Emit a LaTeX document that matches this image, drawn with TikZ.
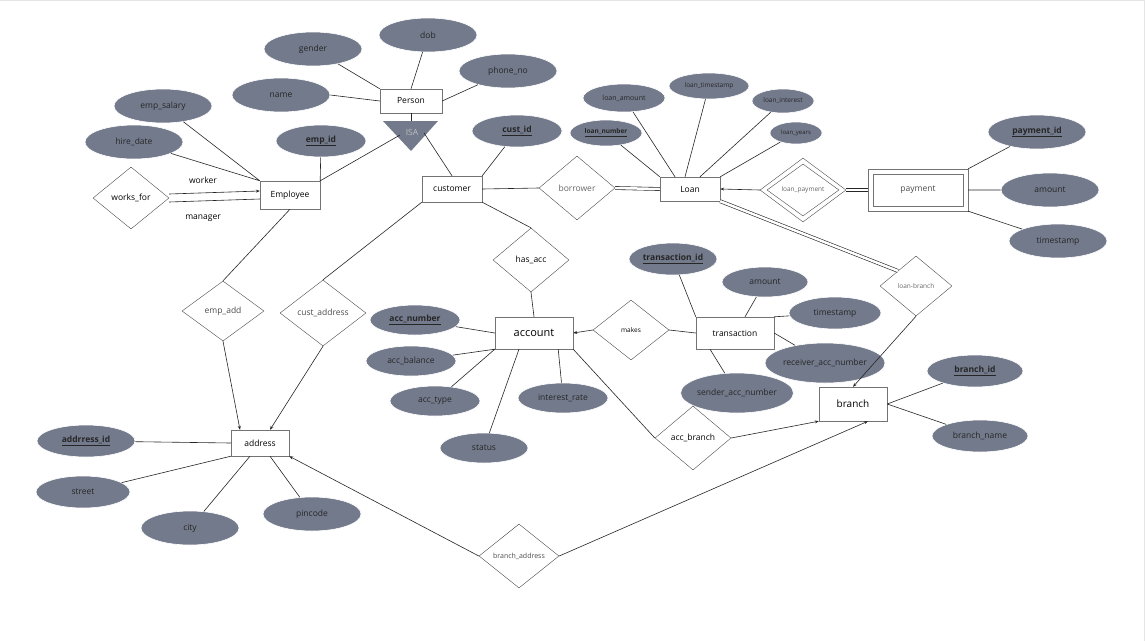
\documentclass[tikz,border=0pt]{standalone}
\usepackage{fontspec}
\setmainfont{Open Sans}
\usetikzlibrary{shapes.geometric,arrows.meta}
\definecolor{att}{HTML}{737A8C}
\begin{document}
\begin{tikzpicture}[x=1pt,y=-1pt,font=\fontsize{8.5}{10}\selectfont,
 attr/.style={ellipse,fill=att,draw=white,line width=0.6pt,inner sep=0pt,text=black!85},
 ent/.style={draw=black!55,fill=white,inner sep=0pt,minimum width=60,minimum height=24},
 rel/.style={diamond,draw=black!70,fill=white,inner sep=0pt,aspect=1.2},
 ln/.style={black!85,line width=0.6pt},
 arr/.style={ln,-{Stealth[length=4pt,width=3pt]}},
 dbl/.style={double=white,double distance=2.5pt,draw=black!85,line width=0.6pt}]
\useasboundingbox (0,0) rectangle (1145,641);
\fill[white] (0,0) rectangle (1145,641);
\draw[black!10] (0,0.5)--(1145,0.5) (1144.5,0)--(1144.5,641);
% attributes
\node[attr,minimum width=98,minimum height=34] (gender) at (313,49) {gender};
\node[attr,minimum width=98,minimum height=34] (dob) at (428,35) {dob};
\node[attr,minimum width=98,minimum height=34] (phone) at (508,71) {phone\_no};
\node[attr,minimum width=98,minimum height=34] (name) at (281,95) {name};
\node[attr,minimum width=98,minimum height=34] (esal) at (163,106) {emp\_salary};
\node[attr,minimum width=98,minimum height=34] (hire) at (134,142) {hire\_date};
\node[attr,minimum width=90,minimum height=32] (empid) at (321,141) {\textbf{\underline{emp\_id}}};
\node[attr,minimum width=90,minimum height=32] (custid) at (517,131) {\textbf{\underline{cust\_id}}};
\node[attr,minimum width=82,minimum height=28,font=\fontsize{7}{8}\selectfont] (lamt) at (624,98) {loan\_amount};
\node[attr,minimum width=80,minimum height=26,font=\fontsize{6.5}{8}\selectfont] (lts) at (709,86) {loan\_timestamp};
\node[attr,minimum width=62,minimum height=24,font=\fontsize{6.5}{8}\selectfont] (lint) at (783,101) {loan\_interest};
\node[attr,minimum width=52,minimum height=22,font=\fontsize{6}{7}\selectfont] (lyrs) at (796,133) {loan\_years};
\node[attr,minimum width=72,minimum height=26,font=\fontsize{6.5}{8}\selectfont] (lnum) at (606,133) {\textbf{\underline{loan\_number}}};
\node[attr,minimum width=98,minimum height=34] (payid) at (1037,132) {\textbf{\underline{payment\_id}}};
\node[attr,minimum width=98,minimum height=34] (pamt) at (1050,190) {amount};
\node[attr,minimum width=98,minimum height=34] (pts) at (1058,241) {timestamp};
\node[attr,minimum width=90,minimum height=30] (accnum) at (415,320) {\textbf{\underline{acc\_number}}};
\node[attr,minimum width=90,minimum height=30] (accbal) at (411,361) {acc\_balance};
\node[attr,minimum width=90,minimum height=30] (acctype) at (435,401) {acc\_type};
\node[attr,minimum width=88,minimum height=30] (status) at (484,448) {status};
\node[attr,minimum width=90,minimum height=30] (irate) at (563,398) {interest\_rate};
\node[attr,minimum width=88,minimum height=32] (tid) at (673,259) {\textbf{\underline{transaction\_id}}};
\node[attr,minimum width=86,minimum height=30] (tamt) at (765,282) {amount};
\node[attr,minimum width=92,minimum height=32] (tts) at (835,313) {timestamp};
\node[attr,minimum width=120,minimum height=40] (rcv) at (825,363) {receiver\_acc\_number};
\node[attr,minimum width=108,minimum height=40] (snd) at (737,393) {sender\_acc\_number};
\node[attr,minimum width=96,minimum height=32] (bid) at (975,371) {\textbf{\underline{branch\_id}}};
\node[attr,minimum width=96,minimum height=32] (bname) at (980,436) {branch\_name};
\node[attr,minimum width=98,minimum height=32] (addid) at (86,441) {\textbf{\underline{addrress\_id}}};
\node[attr,minimum width=94,minimum height=32] (street) at (83,492) {street};
\node[attr,minimum width=98,minimum height=34] (city) at (190,528) {city};
\node[attr,minimum width=98,minimum height=34] (pin) at (312,514) {pincode};
% entities
\node[ent,minimum width=62] (person) at (411,101) {Person};
\fill[att] (383,121) -- (438,121) -- (411,151) -- cycle;
\node[text=black!25] (isa) at (412,132) {ISA};
\node[ent,minimum height=28] (emp) at (290,195) {Employee};
\node[ent,minimum height=26] (cust) at (452,189) {customer};
\node[ent] (loan) at (690,189) {Loan};
\node[ent,minimum width=100,minimum height=42] (pay) at (918,190) {};
\node[draw=black!55,minimum width=90,minimum height=32,inner sep=0pt,text=black!70] (payin) at (918,190) {payment};
\node[ent,minimum width=78,minimum height=32,font=\fontsize{11}{12}\selectfont] (acc) at (534,333) {account};
\node[ent,minimum width=78,minimum height=32] (trans) at (735,333) {transaction};
\node[ent,minimum width=68,minimum height=34,font=\fontsize{10}{12}\selectfont] (branch) at (853,404) {branch};
\node[ent,minimum width=58,minimum height=26] (addr) at (260,443) {address};
% relations
\node[rel,minimum width=76,minimum height=62] (wf) at (131,198) {works\_for};
\node[rel,minimum width=76,minimum height=64,text=black!60] (borr) at (577,188) {borrower};
\node[rel,minimum width=86,minimum height=64] (lp) at (803,190) {};
\node[rel,minimum width=72,minimum height=52,font=\fontsize{6.5}{8}\selectfont,text=black!60] (lpin) at (803,190) {loan\_payment};
\node[rel,minimum width=72,minimum height=60,font=\fontsize{6.5}{8}\selectfont,text=black!60] (lb) at (916,286) {loan-branch};
\node[rel,minimum width=76,minimum height=64] (hasacc) at (531,260) {has\_acc};
\node[rel,minimum width=76,minimum height=60,font=\fontsize{6.5}{8}\selectfont] (makes) at (631,330) {makes};
\node[rel,minimum width=76,minimum height=64] (accbr) at (693,438) {acc\_branch};
\node[rel,minimum width=80,minimum height=64,font=\fontsize{7}{8}\selectfont,text=black!70] (braddr) at (519,556) {branch\_address};
\node[rel,minimum width=82,minimum height=60,text=black!70] (empadd) at (223,311) {emp\_add};
\node[rel,minimum width=86,minimum height=66,text=black!70] (custadd) at (323,313) {cust\_address};
\node (worker) at (203,180) {worker};
\node (manager) at (203,218) {manager};
% connections
\draw[ln] (gender)--(person.north west) (dob)--(person.north) (phone)--(person.east) (name.east)--(person.west);
\draw[ln] (person.south)--(411,121);
\draw[ln] (esal)--(emp.north west) (hire)--(emp.north west) (empid)--(emp.north east) (emp.north east)--(400,135);
\draw[ln] (424,133)--(cust.north) (custid)--(cust.north east);
\draw[ln] ([yshift=-4]wf.east)--([yshift=-4]emp.west);
\draw[arr] ([yshift=4]wf.east)--([yshift=4]emp.west);
\draw[ln] (cust.east)--(borr.west);
\draw[dbl] (borr.east)--(loan.west);
\draw[ln] (lnum)--(loan.north west) (lamt)--([xshift=-15]loan.north) (lts)--([xshift=-5]loan.north) (lint)--([xshift=10]loan.north) (lyrs)--(loan.north east);
\draw[arr] (lp.west)--(loan.east);
\draw[dbl] (lp.east)--(pay.west);
\draw[ln] (payid)--(pay.north east) (pamt)--(pay.east) (pts)--(pay.south east);
\draw[dbl] (loan.south east)--(lb.north west);
\draw[arr] (lb.south)--(branch.north);
\draw[ln] (cust.south east)--(hasacc.north) (hasacc.south)--(acc.north);
\draw[ln] (accnum)--(acc.west) (accbal)--(acc.south west) (acctype)--(acc.south west) (status)--([xshift=-15]acc.south) (irate)--([xshift=-15]acc.south east);
\draw[arr] (makes.west)--(acc.east);
\draw[ln] (makes.east)--(trans.west);
\draw[ln] (tid)--(trans.north west) (tamt)--([xshift=10]trans.north) (tts)--(trans.north east) (rcv)--(trans.east) (snd)--([xshift=-25]trans.south);
\draw[ln] (acc.south east)--(accbr.west);
\draw[arr] (accbr.east)--(branch.south west);
\draw[ln] (bid)--(branch.east) (bname)--(branch.east);
\draw[ln] (emp.south)--(empadd.north);
\draw[arr] (empadd.south)--([xshift=-20]addr.north);
\draw[ln] (cust.south west)--(custadd.north);
\draw[arr] (custadd.south)--([xshift=10]addr.north);
\draw[arr] (braddr.west)--(addr.south east);
\draw[arr] (braddr.east)--([xshift=15]branch.south);
\draw[ln] (addid)--(addr.west) (street)--(addr.south west) (city)--([xshift=-10]addr.south) (pin)--([xshift=10]addr.south);
\end{tikzpicture}
\end{document}
